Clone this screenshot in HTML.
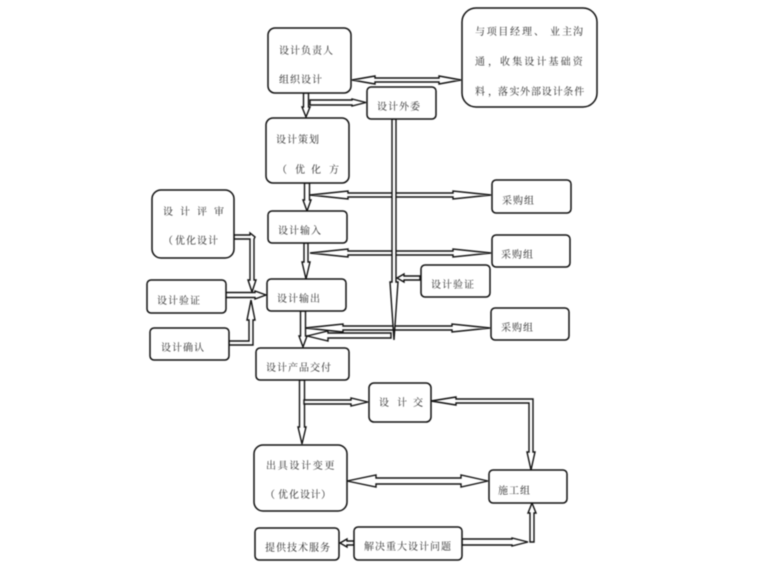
<!DOCTYPE html>
<html><head><meta charset="utf-8">
<style>
html,body{margin:0;padding:0;background:#fff;width:760px;height:570px;overflow:hidden}
svg{display:block;filter:blur(0.45px)}
.a polygon{fill:#fff;stroke:#111;stroke-width:1.4;stroke-linejoin:miter}
.b rect{fill:#fff;stroke:#111;stroke-width:1.5}
text{font-family:"Liberation Serif","Noto Serif CJK SC",serif;font-size:10px;fill:#2a2a2a;letter-spacing:1px}
</style></head><body>
<svg width="760" height="570" viewBox="0 0 760 570" xmlns="http://www.w3.org/2000/svg">
<g class="a">
<polygon points="352,80 375,76 375,78 439,78 439,76 461,80 439,84 439,82 375,82 375,84"/>
<polygon points="310,195 348,191 348,193 453,193 453,191 491,195 453,199 453,197 348,197 348,199"/>
<polygon points="310,253 348,249 348,251 453,251 453,249 491,253 453,257 453,255 348,255 348,257"/>
<polygon points="305,328 343,324 343,326 452,326 452,324 490,328 452,332 452,330 343,330 343,332"/>
<polygon points="307,336 328,331 328,333 391,333 391,338 328,338 328,341"/>
<polygon points="310,100 352,100 352,99 366,102.500 352,106 352,105 310,105"/>
<polygon points="392,119 396,119 396,282 398,282 394,340 390,282 392,282"/>
<polygon points="420,276 404,276 404,274 397,278 404,282 404,280 420,280"/>
<polygon points="303.500,93 308.500,93 308.500,107 310,107 306,117 302,107 303.500,107"/>
<polygon points="304.500,183 309.500,183 309.500,200 311,200 307,211 303,200 304.500,200"/>
<polygon points="304,243 308,243 308,262 310,262 306,279 302,262 304,262"/>
<polygon points="300.500,311 305.500,311 305.500,336 307,336 303,347 299,336 300.500,336"/>
<polygon points="234,235 250,235 250,233 255,237 254,239 254,280 256,280 252,292 248,280 250,280 250,239 234,239"/>
<polygon points="226,292.500 255,292.500 255,291 266,295 255,299 255,297.500 226,297.500"/>
<polygon points="229,341 249,341 249,320 247,320 251,300 255,320 253,320 253,345 229,345"/>
<polygon points="299.500,380 304.500,380 304.500,427 306,427 302,444 298,427 299.500,427"/>
<polygon points="304,400 351,400 351,398 368,402 351,406 351,404 304,404"/>
<polygon points="431,401 456,397 456,399 533,399 533,452 535,452 531,470 527,452 529,452 529,403 456,403 456,405"/>
<polygon points="347,481 376,475 376,478 461,478 461,475 488,481 461,487 461,484 376,484 376,487"/>
<polygon points="462,539 512,539 512,538 528,542 512,546 512,545 462,545"/>
<polygon points="530,542 530,513 528,513 532,503 536,513 534,513 534,542"/>
<polygon points="354,541 347,541 347,539 340,543 347,547 347,545 354,545"/>
</g>
<g class="b">
<rect x="268" y="28" width="83" height="65" rx="7"/>
<rect x="462" y="8" width="135" height="99" rx="14"/>
<rect x="367" y="87" width="69" height="32" rx="4"/>
<rect x="266" y="118" width="83" height="65" rx="7"/>
<rect x="152" y="190" width="82" height="68" rx="9"/>
<rect x="268" y="211" width="79" height="32" rx="4"/>
<rect x="147" y="280" width="79" height="33" rx="4"/>
<rect x="267" y="279" width="79" height="32" rx="4"/>
<rect x="150" y="328" width="79" height="32" rx="4"/>
<rect x="256" y="348" width="93" height="32" rx="4"/>
<rect x="492" y="180" width="79" height="33" rx="4"/>
<rect x="492" y="235" width="78" height="32" rx="4"/>
<rect x="421" y="265" width="69" height="32" rx="4"/>
<rect x="491" y="308" width="78" height="32" rx="4"/>
<rect x="369" y="383" width="62" height="39" rx="5"/>
<rect x="254" y="445" width="93" height="66" rx="9"/>
<rect x="489" y="470" width="78" height="33" rx="4"/>
<rect x="255" y="528" width="84" height="32" rx="4"/>
<rect x="354" y="527" width="108" height="33" rx="4"/>
</g>
<text x="279" y="54">设计负责人</text>
<text x="279" y="83">组织设计</text>
<text x="475 486.700 498.300 510 522 534 550 562 573" y="35">与项目经理、业主沟</text>
<text x="475 488 500 512.200 524.300 536.400 548.500 560.600 572.700" y="65">通，收集设计基础资</text>
<text x="475 488 498 509.500 520 531 541.700 552.700 563.300 574.300" y="95">料，落实外部设计条件</text>
<text x="377" y="110">设计外委</text>
<text x="276" y="143">设计策划</text>
<text x="277 295 311 329" y="173">（优化方</text>
<text x="163" y="215">设</text><text x="180" y="215">计</text><text x="197" y="215">评</text><text x="214" y="215">审</text>
<text x="163 175 186 197 208" y="244">（优化设计</text>
<text x="278" y="234">设计输入</text>
<text x="157" y="304">设计验证</text>
<text x="277" y="302">设计输出</text>
<text x="161" y="351">设计确认</text>
<text x="266" y="371">设计产品交付</text>
<text x="502" y="204">采购组</text>
<text x="501" y="258">采购组</text>
<text x="431" y="288">设计验证</text>
<text x="501" y="331">采购组</text>
<text x="379" y="406">设</text><text x="397" y="406">计</text><text x="413" y="406">交</text>
<text x="266" y="469" style="letter-spacing:1.7px">出具设计变更</text>
<text x="265 278 289 300 310.500 321" y="498">（优化设计）</text>
<text x="498" y="494">施工组</text>
<text x="265" y="551">提供技术服务</text>
<text x="364" y="550">解决重大设计问题</text>
</svg>
</body></html>
